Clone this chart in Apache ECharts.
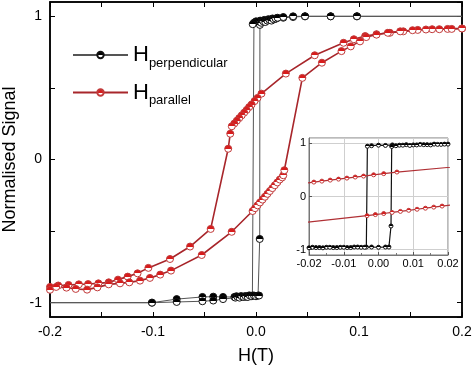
<!DOCTYPE html>
<html>
<head>
<meta charset="utf-8">
<script src="https://cdn.jsdelivr.net/npm/echarts@6/dist/echarts.min.js"></script>
<style>html,body{margin:0;padding:0;background:#fff}#c{width:474px;height:370px}</style>
</head>
<body>
<div id="c"></div>
<script>
// H_perpendicular, descending branch (from +0.2 T)
const perpDownH = [0.2, 0.098, 0.0725, 0.0476, 0.036, 0.0265, 0.020, 0.018, 0.016, 0.014, 0.012, 0.010, 0.008, 0.006, 0.004, 0.002, 0.000, -0.002, -0.0032, -0.0035, -0.005, -0.007, -0.009, -0.011, -0.013, -0.015, -0.017, -0.019, -0.021, -0.032, -0.0415, -0.052, -0.077, -0.101, -0.2];
const perpDownM = [1.0, 1.0, 1.0, 1.0, 0.995, 0.99, 0.985, 0.98, 0.985, 0.975, 0.98, 0.97, 0.975, 0.965, 0.97, 0.96, 0.965, 0.955, 0.945, -0.95, -0.955, -0.95, -0.96, -0.955, -0.96, -0.955, -0.96, -0.955, -0.96, -0.96, -0.958, -0.96, -0.975, -1.0, -1.0];
// H_perpendicular, ascending branch (from -0.2 T)
const perpUpH = [-0.2, -0.101, -0.077, -0.052, -0.0415, -0.032, -0.020, -0.018, -0.016, -0.014, -0.012, -0.010, -0.008, -0.006, -0.004, -0.002, 0.000, 0.002, 0.003, 0.0036, 0.0038, 0.005, 0.007, 0.009, 0.011, 0.013, 0.015, 0.017, 0.019, 0.021, 0.0265, 0.036, 0.0476, 0.0725, 0.098, 0.2];
const perpUpM = [-1.0, -1.0, -0.995, -0.99, -0.985, -0.975, -0.965, -0.96, -0.965, -0.955, -0.96, -0.955, -0.96, -0.95, -0.955, -0.95, -0.955, -0.95, -0.95, -0.555, 0.94, 0.955, 0.965, 0.96, 0.97, 0.975, 0.97, 0.98, 0.985, 0.99, 0.995, 1.0, 1.0, 1.0, 1.0, 1.0];
// H_parallel, descending branch
const parDownH = [0.2, 0.186, 0.171, 0.157, 0.143, 0.130, 0.117, 0.106, 0.095, 0.085, 0.057, 0.029, 0.0053, 0.0015, -0.0014, -0.0043, -0.0067, -0.0091, -0.0115, -0.0139, -0.0163, -0.0186, -0.0211, -0.0235, -0.025, -0.027, -0.044, -0.064, -0.0835, -0.1045, -0.115, -0.1246, -0.134, -0.143, -0.153, -0.163, -0.172, -0.182, -0.192, -0.2];
const parDownM = [0.915, 0.912, 0.91, 0.905, 0.895, 0.885, 0.875, 0.862, 0.84, 0.815, 0.728, 0.60, 0.46, 0.43, 0.408, 0.384, 0.366, 0.346, 0.327, 0.308, 0.289, 0.271, 0.251, 0.232, 0.18, 0.075, -0.485, -0.608, -0.695, -0.757, -0.795, -0.818, -0.839, -0.858, -0.865, -0.87, -0.872, -0.876, -0.88, -0.89];
// H_parallel, ascending branch
const parUpH = [-0.2, -0.194, -0.184, -0.175, -0.164, -0.154, -0.143, -0.132, -0.123, -0.1126, -0.103, -0.093, -0.0825, -0.0527, -0.0236, -0.0033, -0.0009, 0.0015, 0.0039, 0.0063, 0.0087, 0.0111, 0.0135, 0.0159, 0.0183, 0.0207, 0.0231, 0.0255, 0.0265, 0.0275, 0.045, 0.064, 0.083, 0.092, 0.101, 0.107, 0.117, 0.128, 0.14, 0.152, 0.165, 0.178, 0.19, 0.2];
const parUpM = [-0.91, -0.89, -0.895, -0.904, -0.909, -0.893, -0.872, -0.865, -0.858, -0.846, -0.827, -0.804, -0.776, -0.667, -0.505, -0.36, -0.34, -0.32, -0.30, -0.28, -0.26, -0.24, -0.22, -0.20, -0.18, -0.16, -0.14, -0.125, -0.11, -0.075, 0.57, 0.676, 0.757, 0.79, 0.825, 0.855, 0.872, 0.885, 0.895, 0.903, 0.908, 0.91, 0.912, 0.915];

const xTicksMain = [-0.2, -0.1, 0.0, 0.1, 0.2];
const yTicksMain = [-1, 0, 1];
const xTicksInset = [-0.02, -0.01, 0.00, 0.01, 0.02];

const FONT = 'Liberation Sans, Arial, sans-serif';
function half(top) {
  return {type: 'linear', x: 0, y: 0, x2: 0, y2: 1, colorStops: [
    {offset: 0, color: top}, {offset: 0.5, color: top},
    {offset: 0.5, color: '#ffffff'}, {offset: 1, color: '#ffffff'}]};
}
const zip = (h, m, hideEnds) => h.map((v, i) => hideEnds && Math.abs(v) >= 0.2 ? {value: [v, m[i]], symbol: 'none'} : [v, m[i]]);

const perpStyle = {color: half('#000'), borderColor: '#111', borderWidth: 1};
const parStyle = {color: half('#d81c1c'), borderColor: '#c23a3a', borderWidth: 1};

function mk(name, h, m, grid, size, style, line, hideEnds) {
  return {
    name: name, type: 'line', data: zip(h, m, hideEnds),
    xAxisIndex: grid === 0 ? 0 : 2, yAxisIndex: grid === 0 ? 0 : 2,
    symbol: 'circle', symbolSize: size, showAllSymbol: true,
    itemStyle: style, lineStyle: line, clip: true, animation: false,
    z: grid === 0 ? (name === 'par' ? 3 : 2) : 12
  };
}
const perpLine = {color: '#555', width: 1};
const parLine = {color: '#a8262b', width: 1.6};
const perpLineI = {color: '#111', width: 1.2};
const parLineI = {color: '#b03035', width: 1.2};

const chart = echarts.init(document.getElementById('c'));
const isTick = (v, arr) => arr.some(t => Math.abs(t - v) < 1e-9);
chart.setOption({
  animation: false,
  textStyle: {fontFamily: FONT},
  grid: [
    {left: 50, right: 12, top: 2, bottom: 53, show: true, borderColor: '#000', borderWidth: 1.5, backgroundColor: '#fff', outerBoundsMode: 'none', containLabel: false},
    {left: 309, right: 26, top: 138, bottom: 115, show: true, borderColor: '#777', borderWidth: 1, backgroundColor: '#fff', z: 10, outerBoundsMode: 'none', containLabel: false}
  ],
  legend: {
    orient: 'vertical', left: 72, top: 44, padding: 0, itemWidth: 55, itemHeight: 8, itemGap: 12,
    data: ['perp', 'par'],
    formatter: n => n === 'perp' ? '{h|H}{s|perpendicular}' : '{h|H}{s|parallel}',
    textStyle: {rich: {
      h: {fontSize: 22, fontFamily: FONT, color: '#000', lineHeight: 24},
      s: {fontSize: 13, fontFamily: FONT, color: '#000', padding: [16, 0, 0, 0]}
    }}
  },
  xAxis: [
    {gridIndex: 0, type: 'value', min: -0.2, max: 0.2, interval: 0.05, position: 'bottom',
     name: 'H(T)', nameLocation: 'middle', nameGap: 30, nameTextStyle: {fontSize: 18, color: '#000', fontFamily: FONT},
     axisLine: {onZero: false, lineStyle: {color: '#000', width: 1.5}}, axisTick: {inside: true, length: 5, lineStyle: {color: '#000'}},
     axisLabel: {fontSize: 14, color: '#000', margin: 8, formatter: v => isTick(v, xTicksMain) ? v.toFixed(1) : ''},
     splitLine: {show: false}},
    {gridIndex: 0, type: 'value', min: -0.2, max: 0.2, interval: 0.05, position: 'top',
     axisLine: {onZero: false, lineStyle: {color: '#000', width: 1.5}}, axisTick: {inside: true, length: 5, lineStyle: {color: '#000'}},
     axisLabel: {show: false}, splitLine: {show: false}},
    {gridIndex: 1, type: 'value', min: -0.02, max: 0.02, interval: 0.01, position: 'bottom', z: 11,
     axisLine: {onZero: false, lineStyle: {color: '#777', width: 1}}, axisTick: {inside: true, length: 3, lineStyle: {color: '#555'}},
     minorTick: {show: true, splitNumber: 2, length: 2, lineStyle: {color: '#777'}},
     axisLabel: {fontSize: 11, color: '#000', margin: 3, formatter: v => isTick(v, xTicksInset) ? v.toFixed(2) : ''},
     splitLine: {show: true, lineStyle: {color: '#cfcfcf', width: 1}}}
  ],
  yAxis: [
    {gridIndex: 0, type: 'value', min: -1.1, max: 1.1, splitNumber: 4, position: 'left',
     name: 'Normalised Signal', nameLocation: 'middle', nameGap: 29, nameTextStyle: {fontSize: 18, color: '#000', fontFamily: FONT},
     axisLine: {onZero: false, lineStyle: {color: '#000', width: 1.5}}, axisTick: {inside: true, length: 5, lineStyle: {color: '#000'}},
     axisLabel: {fontSize: 14, color: '#000', margin: 8, showMinLabel: false, showMaxLabel: false, formatter: v => isTick(v, yTicksMain) ? String(Math.round(v)) : ''},
     splitLine: {show: false}},
    {gridIndex: 0, type: 'value', min: -1.1, max: 1.1, splitNumber: 4, position: 'right',
     axisLine: {onZero: false, lineStyle: {color: '#000', width: 1.5}}, axisTick: {inside: true, length: 5, lineStyle: {color: '#000'}},
     axisLabel: {show: false}, splitLine: {show: false}},
    {gridIndex: 1, type: 'value', min: -1.1, max: 1.1, splitNumber: 2, position: 'left', z: 11,
     axisLine: {onZero: false, lineStyle: {color: '#777', width: 1}}, axisTick: {inside: true, length: 3, lineStyle: {color: '#555'}},
     axisLabel: {fontSize: 11, color: '#000', margin: 3, showMinLabel: false, showMaxLabel: false, formatter: v => isTick(v, yTicksMain) ? String(Math.round(v)) : ''},
     splitLine: {show: true, lineStyle: {color: '#cfcfcf', width: 1}}}
  ],
  series: [
    mk('perp', perpDownH, perpDownM, 0, 7, perpStyle, perpLine, true),
    mk('perp', perpUpH, perpUpM, 0, 7, perpStyle, perpLine, true),
    mk('par', parDownH, parDownM, 0, 7, parStyle, parLine, false),
    mk('par', parUpH, parUpM, 0, 7, parStyle, parLine, false),
    mk('perpI', perpDownH, perpDownM, 1, 4, perpStyle, perpLineI, true),
    mk('perpI', perpUpH, perpUpM, 1, 4, perpStyle, perpLineI, true),
    mk('parI', parDownH, parDownM, 1, 4, parStyle, parLineI, false),
    mk('parI', parUpH, parUpM, 1, 4, parStyle, parLineI, false)
  ]
});
</script>
</body>
</html>
